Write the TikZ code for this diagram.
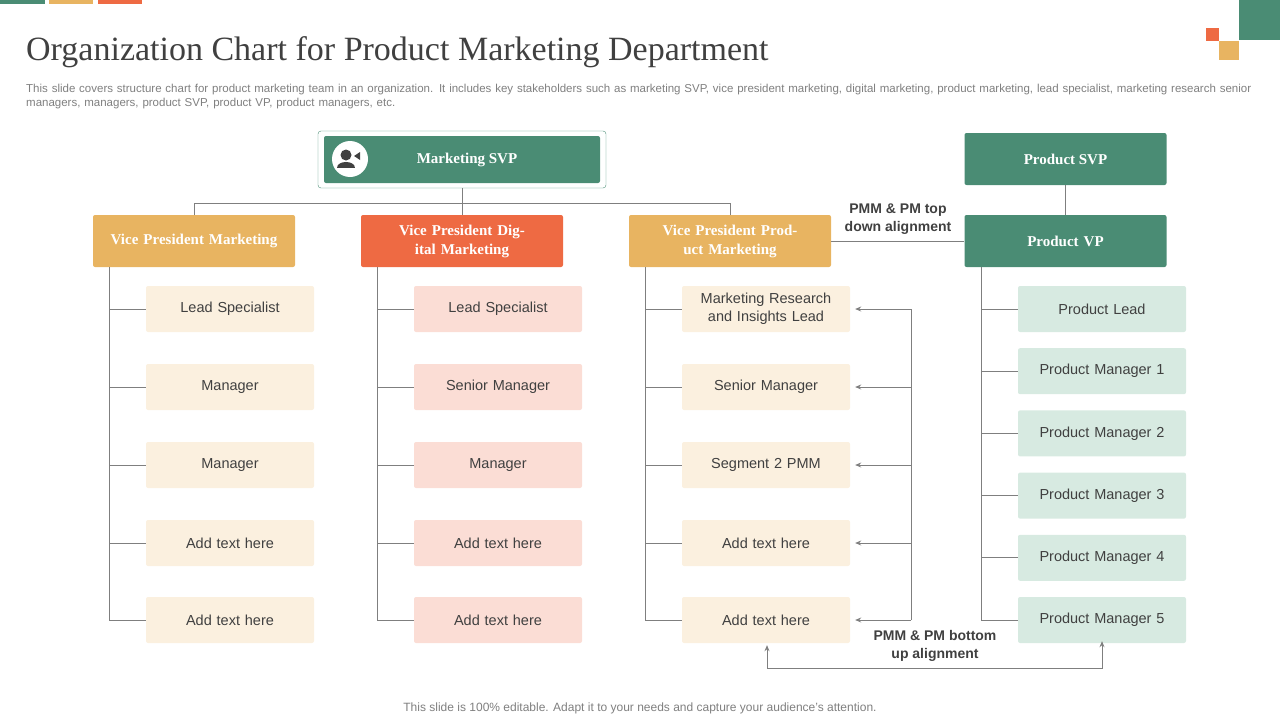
\documentclass[tikz,border=0pt]{standalone}
\usepackage{fontspec}
\setmainfont{Liberation Serif}
\setsansfont{Liberation Sans}
\usetikzlibrary{arrows.meta}
\definecolor{gr}{HTML}{4A8C74}
\definecolor{ye}{HTML}{E8B461}
\definecolor{orr}{HTML}{EE6A43}
\definecolor{lye}{HTML}{FBF0DF}
\definecolor{lor}{HTML}{FBDDD5}
\definecolor{lgr}{HTML}{D7EAE1}
\definecolor{txt}{HTML}{404040}
\definecolor{ln}{HTML}{7F7F7F}
\tikzset{
 vp/.style={rounded corners=2pt,minimum width=202pt,minimum height=52pt,text width=190pt,align=center,text=white,font=\bfseries\fontsize{15}{19}\selectfont},
 ch/.style={rounded corners=2pt,minimum width=168pt,minimum height=46pt,text width=160pt,align=center,text=txt,font=\sffamily\fontsize{14.5}{18}\selectfont},
 conn/.style={draw=ln,line width=0.8pt},
 arr/.style={conn,-{Stealth[length=6pt,width=5pt]}},
 lbl/.style={align=center,font=\sffamily\bfseries\fontsize{14}{18}\selectfont,text=txt}
}
\begin{document}
\begin{tikzpicture}[x=1pt,y=-1pt]
\useasboundingbox (0,0) rectangle (1280,720);
\fill[gr] (0,0) rectangle (45,4);
\fill[ye] (49,0) rectangle (93,4);
\fill[orr] (98,0) rectangle (142,4);
\fill[gr] (1239,0) rectangle (1280,40);
\fill[orr] (1206,28) rectangle (1219,41);
\fill[ye] (1219,41) rectangle (1239,60);
\node[anchor=base west,inner sep=0,font=\fontsize{34}{40}\selectfont,text=txt] (title) at (26,60) {Organization Chart for Product Marketing Department};
\node[anchor=north west,inner sep=0,text width=1230pt,font=\sffamily\fontsize{11.5}{14}\selectfont,text=ln] (sub) at (26,84) {This slide covers structure chart for product marketing team in an organization. It includes key stakeholders such as marketing SVP, vice president marketing, digital marketing, product marketing, lead specialist, marketing research senior managers, managers, product SVP,  product VP,  product managers, etc.};
% Marketing SVP
\node[draw=gr,rounded corners=3pt,minimum width=288pt,minimum height=57pt] (svpo) at (462,159.5) {};
\node[fill=gr,rounded corners=2pt,minimum width=276pt,minimum height=47pt,text=white,font=\bfseries\fontsize{15}{19}\selectfont] (svp) at (462,159.5) {\hspace{10pt}Marketing SVP};
\node[circle,fill=white,minimum size=36pt,inner sep=0] (ic) at (350,159) {};
\fill[txt] (346,155) circle (5.5);
\fill[txt] (337,168) .. controls (337,160) and (355,160) .. (355,168) -- cycle;
\fill[txt] (354,156) -- (360,152) -- (360,160) -- cycle;
\node[fill=gr,rounded corners=2pt,minimum width=202pt,minimum height=52pt,text=white,font=\bfseries\fontsize{15}{19}\selectfont] (psvp) at (1065.5,159) {Product  SVP};
% VPs
\node[vp,fill=ye] (v1) at (194,241) {Vice President  Marketing};
\node[vp,fill=orr] (v2) at (462,241) {Vice President  Digital Marketing};
\node[vp,fill=ye] (v3) at (730,241) {Vice President  Product Marketing};
\node[vp,fill=gr] (v4) at (1065.5,241) {Product  VP};
\coordinate (h1) at (194,203); \coordinate (h3) at (730,203);
\draw[conn] (svpo.south) -- (462,203);
\draw[conn] (v1.north) -- (h1) -- (h3) -- (v3.north);
\draw[conn] (v2.north) -- (462,203);
\draw[conn] (psvp) -- (v4);
\draw[conn] (v3.east) -- (v4.west);
\node[lbl] (l1) at (898,219) {PMM \& PM top\\down alignment};
% children
\foreach \c/\sx/\bx/\col/\lst in {1/109/230/lye/{Lead Specialist,Manager,Manager,Add text here,Add text here},
  2/377/498/lor/{Lead Specialist,Senior Manager,Manager,Add text here,Add text here},
  3/645/766/lye/{Marketing Research\\and Insights Lead,Senior Manager,Segment 2 PMM,Add text here,Add text here}}{
  \foreach \t [count=\i] in \lst {
    \pgfmathsetmacro\yy{309+78*(\i-1)-(\i==5?1:0)}
    \node[ch,fill=\col] (c\c\i) at (\bx,\yy) {\t};
    \draw[conn] (\sx,\yy) -- (c\c\i.west);
  }
  \draw[conn] (\sx,267) -- (\sx,621);
}
\foreach \t [count=\i] in {Product Lead,Product Manager  1,Product Manager  2,Product Manager  3,Product Manager  4,Product Manager  5}{
  \pgfmathsetmacro\yy{309+62.2*(\i-1)}
  \node[ch,fill=lgr] (c4\i) at (1102,\yy) {\t};
  \draw[conn] (981,\yy) -- (c4\i.west);
}
\draw[conn] (981,267) -- (981,621);
% right bracket
\coordinate (b1) at (911,309); \coordinate (b5) at (911,620);
\draw[conn] (b1) -- (b5);
\foreach \i in {1,...,5}{ \draw[arr] (b1 |- c3\i) -- ([xshift=5pt]c3\i.east); }
\coordinate (d1) at (767,668); \coordinate (d2) at (1102,668);
\draw[conn,{Stealth[length=6pt,width=5pt]}-{Stealth[length=6pt,width=5pt]}] ([yshift=-2pt]c35.south -| d1) -- (d1) -- (d2) -- ([yshift=2pt]c46.south);
\node[lbl] (l2) at (935,646) {PMM \& PM bottom\\up alignment};
\node[font=\sffamily\fontsize{12}{14}\selectfont,text=ln] (foot) at (640,708) {This slide is 100\% editable. Adapt it to your needs and capture your audience's attention.};
\end{tikzpicture}
\end{document}
